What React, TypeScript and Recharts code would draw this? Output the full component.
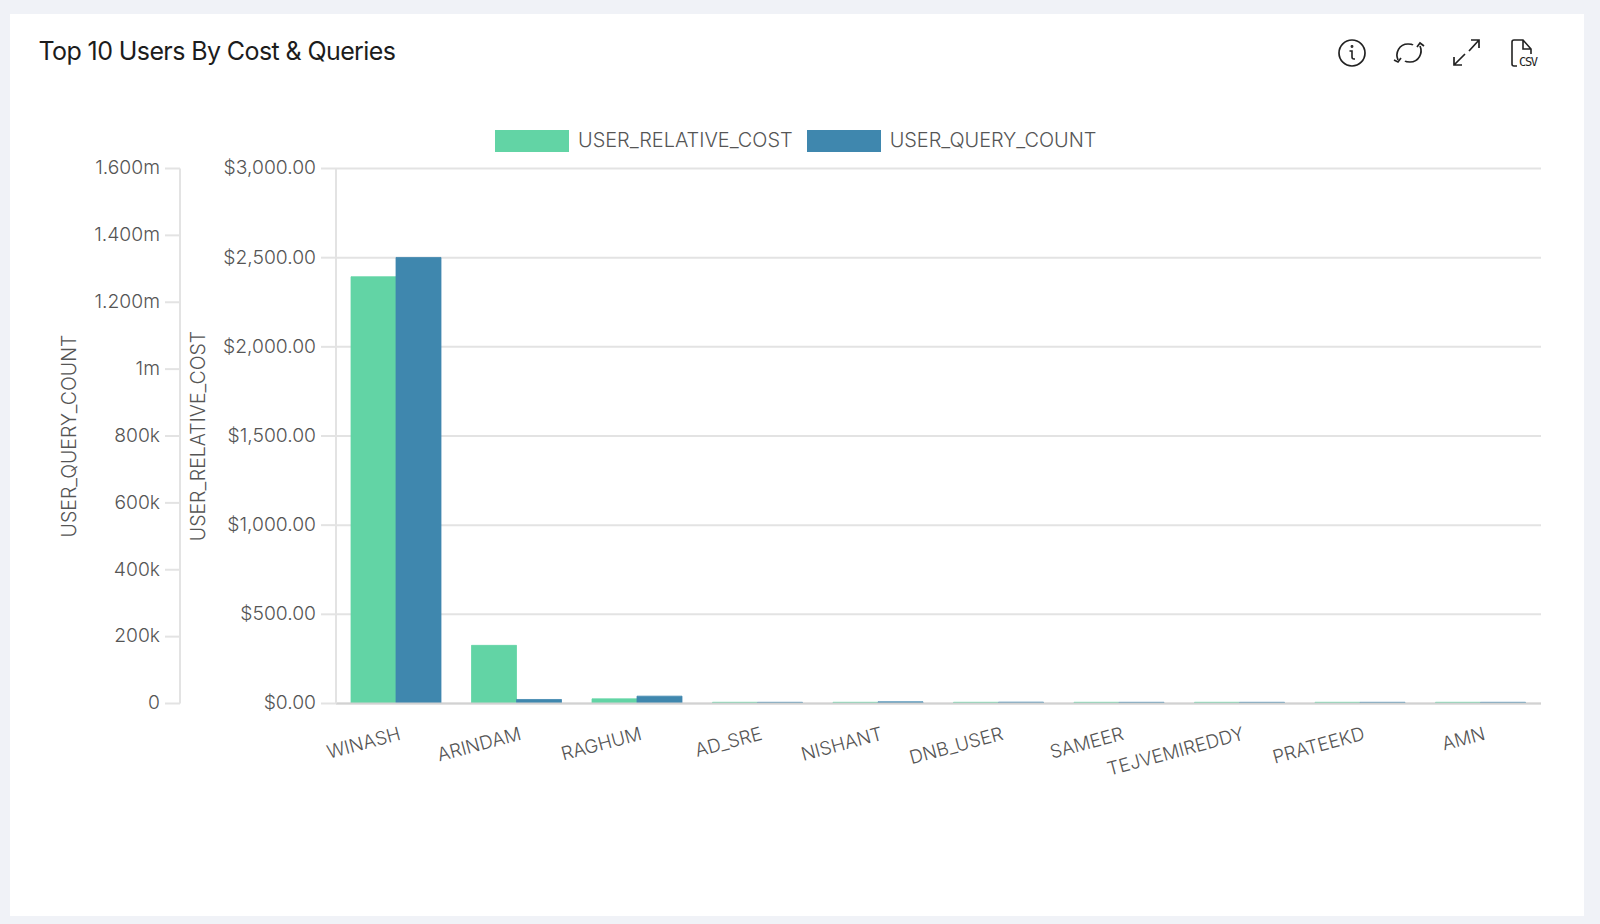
import React from "react";
import { BarChart, Bar, XAxis, YAxis, CartesianGrid, Legend, Label } from "recharts";

const users = ["WINASH", "ARINDAM", "RAGHUM", "AD_SRE", "NISHANT", "DNB_USER", "SAMEER", "TEJVEMIREDDY", "PRATEEKD", "AMN"];
const relativeCost = [2393, 326, 26, 6, 3, 3, 1.5, 1, 1, 1];
const queryCount = [1334000, 12000, 22000, 1500, 5000, 4000, 1000, 1000, 1000, 1000];
const costTicks = [0, 500, 1000, 1500, 2000, 2500, 3000];
const queryTicks = [0, 200000, 400000, 600000, 800000, 1000000, 1200000, 1400000, 1600000];

const data = users.map((user, i) => ({
  user,
  USER_RELATIVE_COST: relativeCost[i],
  USER_QUERY_COUNT: queryCount[i],
}));

const FONT = "Inter, sans-serif";
const TICK = { fill: "#555", fontSize: 19.3, fontWeight: 300, fontFamily: FONT };
const AXIS_LINE = { stroke: "#e3e3e3", strokeWidth: 2 };
const GREEN = "#62d4a5";
const BLUE = "#3f87ae";

const formatCost = (v: number) =>
  "$" + v.toLocaleString("en-US", { minimumFractionDigits: 2, maximumFractionDigits: 2 });

const formatCount = (v: number) => {
  if (v === 0) return "0";
  if (v === 1000000) return "1m";
  if (v > 1000000) return (v / 1000000).toFixed(3) + "m";
  return v / 1000 + "k";
};

function ChartLegend({ payload }: any) {
  return (
    <div style={{ display: "flex", alignItems: "center", fontFamily: FONT, fontSize: 19.9, fontWeight: 300, color: "#555" }}>
      {payload.map((p: any) => (
        <div key={p.value} style={{ display: "flex", alignItems: "center", marginRight: 14 }}>
          <span style={{ width: 74, height: 22, background: p.color, marginRight: 9, position: "relative", top: 1 }} />
          {p.value}
        </div>
      ))}
    </div>
  );
}

function Icons() {
  return (
    <svg width={1600} height={100} style={{ position: "absolute", left: 0, top: 0 }} fill="none" stroke="#222" strokeWidth={1.7}>
      <circle cx={1352} cy={53} r={13} />
      <path d="M1349.5 51h2.5v6q0 2 2 2h1" strokeWidth={1.6} />
      <circle cx={1352} cy={46.5} r={0.6} />
      <path d="M1398 60c-3-7 1-16 10-16 2 0 4 0 5 1M1420 46c3 7-1 16-10 16-2 0-4 0-5-1" />
      <path d="M1394 60l4 2 3-4M1424 46l-4-3-3 4" />
      <path d="M1454 65l11-11M1469 51l10-11M1454 57v8h8M1471 40h8v8" />
      <path d="M1531 54v-5l-8-9h-9q-2 0-2 2v22q0 2 2 2h3M1523 40v9h8" strokeWidth={1.6} />
      <text x={1519} y={66} fontFamily="DejaVu Sans Mono" fontSize={12} textLength={19} fill="#222" stroke="none">CSV</text>
    </svg>
  );
}

export default function App() {
  return (
    <div style={{ position: "absolute", left: 0, top: 0, width: 1600, height: 924, background: "#f0f2f7", overflow: "hidden" }}>
      <div style={{ position: "absolute", left: 10, top: 14, width: 1574, height: 902, background: "#fff" }} />
      <div style={{ position: "absolute", left: 38.5, top: 36, fontFamily: FONT, fontSize: 25, fontWeight: 400, letterSpacing: -0.6, color: "#1c1c1c" }}>
        Top 10 Users By Cost &amp; Queries
      </div>
      <Icons />
      <div style={{ position: "absolute", left: 0, top: 0 }}>
        <BarChart
          width={1600}
          height={924}
          data={data}
          barGap={0}
          barCategoryGap={15}
          margin={{ top: 144.5, right: 59, left: 50, bottom: 140.5 }}
        >
          <CartesianGrid yAxisId="cost" vertical={false} stroke="#e3e3e3" strokeWidth={2} />
          <XAxis
            dataKey="user"
            interval={0}
            height={80}
            angle={-15}
            textAnchor="end"
            tick={{ ...TICK, fontSize: 18.7, dx: 2 }}
            tickLine={false}
            tickMargin={17}
            axisLine={{ stroke: "#d2d2d2", strokeWidth: 2 }}
          />
          <YAxis
            yAxisId="query"
            width={130}
            domain={[0, 1600000]}
            ticks={queryTicks}
            tickFormatter={formatCount}
            tick={{ ...TICK, dy: -1 }}
            tickSize={15}
            tickMargin={5}
            axisLine={AXIS_LINE}
            tickLine={AXIS_LINE}
          >
            <Label value="USER_QUERY_COUNT" angle={-90} position="insideLeft" offset={19} style={{ ...TICK, fontSize: 19.5, textAnchor: "middle" }} />
          </YAxis>
          <YAxis
            yAxisId="cost"
            width={156}
            domain={[0, 3000]}
            ticks={costTicks}
            tickFormatter={formatCost}
            tick={{ ...TICK, dy: -1 }}
            tickSize={15}
            tickMargin={5}
            axisLine={AXIS_LINE}
            tickLine={AXIS_LINE}
          >
            <Label value="USER_RELATIVE_COST" angle={-90} position="insideLeft" offset={18} style={{ ...TICK, fontSize: 19.5, textAnchor: "middle" }} />
          </YAxis>
          <Legend
            content={<ChartLegend />}
            itemSorter={null}
            verticalAlign="top"
            height={0}
            wrapperStyle={{ position: "absolute", left: 495, top: 128, width: "auto" }}
          />
          <Bar yAxisId="cost" dataKey="USER_RELATIVE_COST" fill={GREEN} stroke={GREEN} strokeWidth={0.8} minPointSize={1.2} isAnimationActive={false} />
          <Bar yAxisId="query" dataKey="USER_QUERY_COUNT" fill={BLUE} stroke={BLUE} strokeWidth={0.8} minPointSize={1.2} isAnimationActive={false} />
        </BarChart>
      </div>
    </div>
  );
}
